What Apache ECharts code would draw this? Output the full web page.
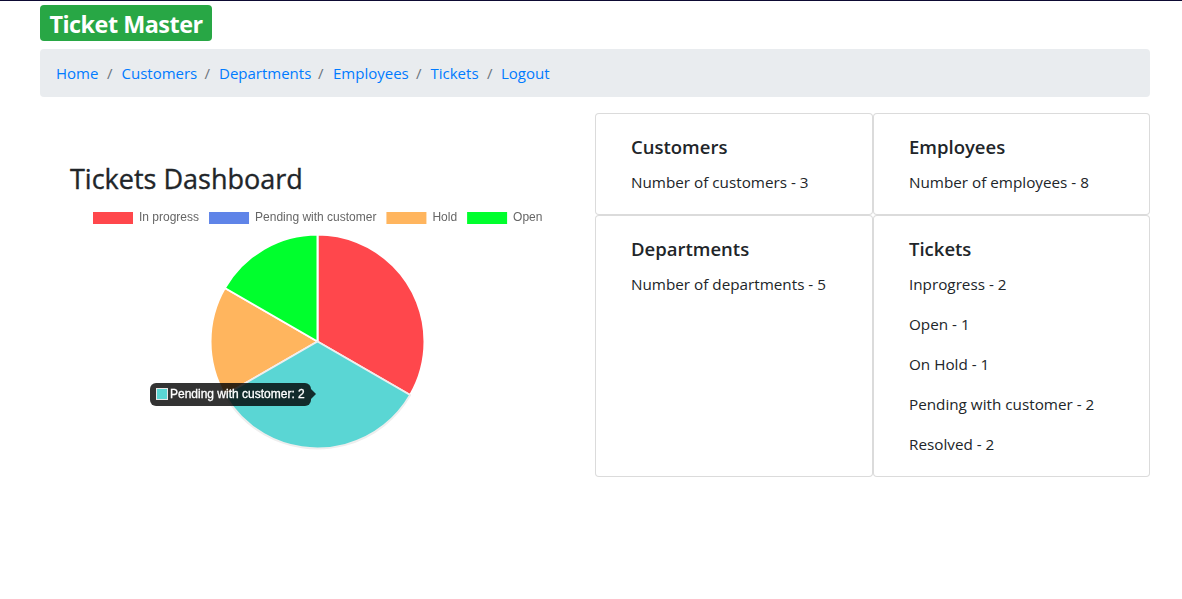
<!DOCTYPE html>
<html>
<head>
<meta charset="utf-8">
<title>Ticket Master</title>
<script src="https://cdn.jsdelivr.net/npm/echarts@6/dist/echarts.min.js"></script>
<style>
html, body { margin: 0; padding: 0; background: #fff; }
body { width: 1182px; height: 599px; position: relative; overflow: hidden; font-family: "Open Sans", "Noto Sans", sans-serif; color: #212529; }
.topline { position: absolute; left: 0; top: 0; width: 100%; height: 1px; background: #0d0a33; }
.brand { position: absolute; left: 40px; top: 5px; width: 172px; height: 36px; line-height: 38px; background: #28a745; color: #fff; border-radius: 4px; font-size: 23.4px; font-weight: 700; text-align: center; letter-spacing: -0.5px; }
.crumbs { position: absolute; left: 40px; top: 49px; width: 1094px; height: 48px; line-height: 49px; padding-left: 16px; background: #e9ecef; border-radius: 4px; font-size: 15px; white-space: nowrap; }
.crumbs a { color: #007bff; text-decoration: none; position: absolute; top: 0; }
.crumbs i { color: #6c757d; font-style: normal; position: absolute; top: 0; }
h1 { position: absolute; left: 70px; top: 160px; margin: 0; font-size: 27px; line-height: 38px; font-weight: 400; -webkit-text-stroke: 0.35px #212529; white-space: nowrap; }
#chart { position: absolute; left: 40px; top: 200px; width: 555px; height: 260px; }
.card { position: absolute; box-sizing: border-box; border: 1px solid rgba(0,0,0,.14); border-radius: 4px; background: #fff; }
.card h5 { position: absolute; left: 35px; top: 19px; margin: 0; font-size: 18.5px; line-height: 28px; font-weight: 600; white-space: nowrap; }
.card p { position: absolute; left: 35px; margin: 0; font-size: 15.25px; line-height: 24px; white-space: nowrap; }
.tip { position: relative; height: 23px; padding: 0 6px 0 20px; font: 12px/22px "Liberation Sans", Arial, sans-serif; -webkit-text-stroke: 0.3px #fff; color: #fff; white-space: nowrap; }
.tip b { position: absolute; left: 6px; top: 5px; width: 10px; height: 10px; border: 1px solid #e8e8e8; }
.tip u { position: absolute; right: -5px; top: 6px; border: 5px solid transparent; border-right-width: 0; border-left-color: rgba(0,0,0,.8); }
</style>
</head>
<body>
<div class="topline"></div>
<div class="brand">Ticket Master</div>
<div class="crumbs">
  <a style="left:16px">Home</a><i style="left:67px">/</i>
  <a style="left:81.5px">Customers</a><i style="left:164.5px">/</i>
  <a style="left:179px">Departments</a><i style="left:278px">/</i>
  <a style="left:293px">Employees</a><i style="left:376px">/</i>
  <a style="left:390.5px">Tickets</a><i style="left:447px">/</i>
  <a style="left:461px">Logout</a>
</div>
<h1>Tickets Dashboard</h1>
<div id="chart"></div>

<div class="card" style="left:595px;top:113px;width:278px;height:102px">
  <h5>Customers</h5><p style="top:56px">Number of customers - 3</p>
</div>
<div class="card" style="left:873px;top:113px;width:277px;height:102px">
  <h5>Employees</h5><p style="top:56px">Number of employees - 8</p>
</div>
<div class="card" style="left:595px;top:215px;width:278px;height:262px">
  <h5>Departments</h5><p style="top:56px">Number of departments - 5</p>
</div>
<div class="card" style="left:873px;top:215px;width:277px;height:262px">
  <h5>Tickets</h5>
  <p style="top:56px">Inprogress - 2</p>
  <p style="top:96px">Open - 1</p>
  <p style="top:136px">On Hold - 1</p>
  <p style="top:176px">Pending with customer - 2</p>
  <p style="top:216px">Resolved - 2</p>
</div>

<script>
const categories = ['In progress', 'Pending with customer', 'Hold', 'Open'];
const ticketCounts = [2, 2, 1, 1];
const sliceColors = ['#ff474c', '#5f84e8', '#ffb55e', '#00ff2d'];
const hoverColor = '#5ad6d4';
const hoverIndex = 1;

const myChart = echarts.init(document.getElementById('chart'));
myChart.setOption({
    animation: false,
    legend: {
        left: 48,
        top: 7,
        selectedMode: false,
        icon: 'rect',
        itemWidth: 40,
        itemHeight: 12,
        itemGap: 10,
        itemStyle: { borderWidth: 0 },
        textStyle: { fontFamily: '"Liberation Sans", Arial, sans-serif', fontSize: 12, color: '#666', padding: [0, 0, 0, 1] },
        data: categories
    },
    tooltip: {
        trigger: 'item',
        transitionDuration: 0,
        showDelay: 0,
        hideDelay: 100000,
        padding: 0,
        borderWidth: 0,
        backgroundColor: 'rgba(0,0,0,0.8)',
        extraCssText: 'border-radius:6px;box-shadow:none;',
        position: () => [110, 183],
        formatter: p => `<div class="tip"><b style="background:${hoverColor}"></b>${p.name}: ${p.value}<u></u></div>`
    },
    series: [
        {
            type: 'pie',
            center: [277.5, 141.5],
            radius: [0, 107],
            startAngle: 90,
            label: { show: false },
            labelLine: { show: false },
            itemStyle: { borderColor: '#fff', borderWidth: 2 },
            emphasis: { scale: false, itemStyle: { color: hoverColor, borderColor: '#eee', borderWidth: 2 } },
            data: categories.map((name, i) => ({
                name,
                value: ticketCounts[i],
                itemStyle: { color: sliceColors[i] }
            }))
        }
    ]
});
myChart.dispatchAction({ type: 'highlight', seriesIndex: 0, dataIndex: hoverIndex });
myChart.dispatchAction({ type: 'showTip', seriesIndex: 0, dataIndex: hoverIndex });
</script>
</body>
</html>
